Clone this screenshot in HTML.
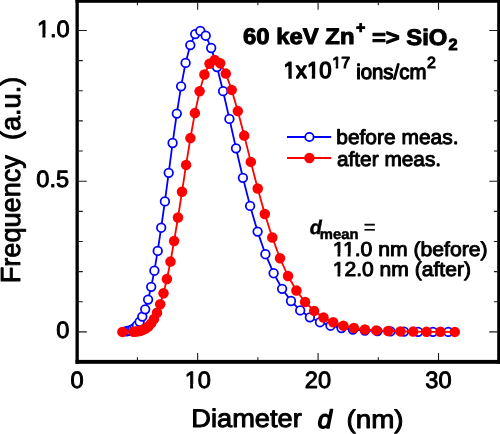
<!DOCTYPE html>
<html><head><meta charset="utf-8">
<style>
html,body{margin:0;padding:0;background:#fff;}
body{width:500px;height:434px;overflow:hidden;}
svg{display:block;}
text{font-family:"Liberation Sans",Arial,sans-serif;fill:#000;white-space:pre;stroke-linejoin:round;text-rendering:geometricPrecision;}
</style></head>
<body>
<svg width="500" height="434" viewBox="0 0 500 434">
<rect x="0" y="0" width="500" height="434" fill="#fff"/>
<path d="M78.8,331.90H86.8M497.2,331.90H489.3M78.8,301.76H82.8M497.2,301.76H493.9M78.8,271.62H82.8M497.2,271.62H493.9M78.8,241.48H82.8M497.2,241.48H493.9M78.8,211.34H82.8M497.2,211.34H493.9M78.8,181.20H86.8M497.2,181.20H489.3M78.8,151.06H82.8M497.2,151.06H493.9M78.8,120.92H82.8M497.2,120.92H493.9M78.8,90.78H82.8M497.2,90.78H493.9M78.8,60.64H82.8M497.2,60.64H493.9M78.8,30.50H86.8M497.2,30.50H489.3M137.42,359.9V357.2M137.42,2.8V5.2M197.64,359.9V353.1M197.64,2.8V9.8M257.86,359.9V357.2M257.86,2.8V5.2M318.08,359.9V353.1M318.08,2.8V9.8M378.30,359.9V357.2M378.30,2.8V5.2M438.52,359.9V353.1M438.52,2.8V9.8" stroke="#1a1a1a" stroke-width="1.1" fill="none"/>
<g fill="#000"><rect x="75.5" y="0" width="3.3" height="363.8"/><rect x="75.5" y="0" width="424.5" height="2.8"/><rect x="75.5" y="359.9" width="424.5" height="3.9"/><rect x="497.2" y="0" width="2.8" height="363.8"/></g>
<polyline points="125.6,331.4 127.7,331.0 129.9,330.4 132.2,329.4 134.6,327.8 137.0,325.4 139.6,321.8 142.3,316.6 145.2,309.3 148.1,299.6 151.2,286.8 154.4,270.7 157.7,250.9 161.2,227.7 164.9,201.4 168.7,172.8 172.6,143.0 176.8,113.6 181.1,86.3 185.6,62.9 190.3,45.1 195.2,34.1 200.3,30.9 205.7,35.7 211.2,48.0 217.0,67.0 223.1,91.2 229.4,118.9 236.0,148.3 242.9,177.8 250.1,205.9 257.6,231.6 265.4,254.2 273.6,273.2 282.1,288.8 291.0,301.0 300.2,310.4 309.9,317.3 320.0,322.2 330.5,325.7 341.5,328.0 352.9,329.5 364.9,330.5 377.4,331.1 390.4,331.4 404.0,331.6 418.1,331.8 432.9,331.8 448.3,331.9" fill="none" stroke="#0000ff" stroke-width="1.8" stroke-linejoin="round"/>
<g fill="#fff" stroke="#0000ff" stroke-width="1.75"><circle cx="125.6" cy="331.4" r="4.3"/><circle cx="127.7" cy="331.0" r="4.3"/><circle cx="129.9" cy="330.4" r="4.3"/><circle cx="132.2" cy="329.4" r="4.3"/><circle cx="134.6" cy="327.8" r="4.3"/><circle cx="137.0" cy="325.4" r="4.3"/><circle cx="139.6" cy="321.8" r="4.3"/><circle cx="142.3" cy="316.6" r="4.3"/><circle cx="145.2" cy="309.3" r="4.3"/><circle cx="148.1" cy="299.6" r="4.3"/><circle cx="151.2" cy="286.8" r="4.3"/><circle cx="154.4" cy="270.7" r="4.3"/><circle cx="157.7" cy="250.9" r="4.3"/><circle cx="161.2" cy="227.7" r="4.3"/><circle cx="164.9" cy="201.4" r="4.3"/><circle cx="168.7" cy="172.8" r="4.3"/><circle cx="172.6" cy="143.0" r="4.3"/><circle cx="176.8" cy="113.6" r="4.3"/><circle cx="181.1" cy="86.3" r="4.3"/><circle cx="185.6" cy="62.9" r="4.3"/><circle cx="190.3" cy="45.1" r="4.3"/><circle cx="195.2" cy="34.1" r="4.3"/><circle cx="200.3" cy="30.9" r="4.3"/><circle cx="205.7" cy="35.7" r="4.3"/><circle cx="211.2" cy="48.0" r="4.3"/><circle cx="217.0" cy="67.0" r="4.3"/><circle cx="223.1" cy="91.2" r="4.3"/><circle cx="229.4" cy="118.9" r="4.3"/><circle cx="236.0" cy="148.3" r="4.3"/><circle cx="242.9" cy="177.8" r="4.3"/><circle cx="250.1" cy="205.9" r="4.3"/><circle cx="257.6" cy="231.6" r="4.3"/><circle cx="265.4" cy="254.2" r="4.3"/><circle cx="273.6" cy="273.2" r="4.3"/><circle cx="282.1" cy="288.8" r="4.3"/><circle cx="291.0" cy="301.0" r="4.3"/><circle cx="300.2" cy="310.4" r="4.3"/><circle cx="309.9" cy="317.3" r="4.3"/><circle cx="320.0" cy="322.2" r="4.3"/><circle cx="330.5" cy="325.7" r="4.3"/><circle cx="341.5" cy="328.0" r="4.3"/><circle cx="352.9" cy="329.5" r="4.3"/><circle cx="364.9" cy="330.5" r="4.3"/><circle cx="377.4" cy="331.1" r="4.3"/><circle cx="390.4" cy="331.4" r="4.3"/><circle cx="404.0" cy="331.6" r="4.3"/><circle cx="418.1" cy="331.8" r="4.3"/><circle cx="432.9" cy="331.8" r="4.3"/><circle cx="448.3" cy="331.9" r="4.3"/></g>
<polyline points="122.4,331.9 133.5,331.7 135.7,331.5 138.0,331.2 140.4,330.7 142.9,329.8 145.5,328.5 148.3,326.5 151.1,323.4 154.0,319.0 157.0,312.7 160.2,304.3 163.5,293.2 166.9,279.0 170.5,261.6 174.1,241.0 178.0,217.5 182.0,191.8 186.1,164.9 190.4,138.1 194.9,113.1 199.6,91.3 204.4,74.5 209.5,63.8 214.7,59.9 220.2,63.3 225.8,73.6 231.7,89.9 237.8,111.1 244.2,135.6 250.8,161.9 257.7,188.5 264.8,214.0 272.3,237.5 280.0,258.3 288.0,276.0 296.4,290.5 305.1,302.0 314.1,310.9 323.5,317.5 333.2,322.3 343.4,325.7 353.9,328.0 364.9,329.5 376.3,330.4 388.1,331.0 400.4,331.4 413.2,331.6 426.6,331.8 440.4,331.8 454.8,331.9" fill="none" stroke="#ff0000" stroke-width="1.8" stroke-linejoin="round"/>
<g fill="#ff0000"><circle cx="122.4" cy="331.9" r="5.25"/><circle cx="133.5" cy="331.7" r="5.25"/><circle cx="135.7" cy="331.5" r="5.25"/><circle cx="138.0" cy="331.2" r="5.25"/><circle cx="140.4" cy="330.7" r="5.25"/><circle cx="142.9" cy="329.8" r="5.25"/><circle cx="145.5" cy="328.5" r="5.25"/><circle cx="148.3" cy="326.5" r="5.25"/><circle cx="151.1" cy="323.4" r="5.25"/><circle cx="154.0" cy="319.0" r="5.25"/><circle cx="157.0" cy="312.7" r="5.25"/><circle cx="160.2" cy="304.3" r="5.25"/><circle cx="163.5" cy="293.2" r="5.25"/><circle cx="166.9" cy="279.0" r="5.25"/><circle cx="170.5" cy="261.6" r="5.25"/><circle cx="174.1" cy="241.0" r="5.25"/><circle cx="178.0" cy="217.5" r="5.25"/><circle cx="182.0" cy="191.8" r="5.25"/><circle cx="186.1" cy="164.9" r="5.25"/><circle cx="190.4" cy="138.1" r="5.25"/><circle cx="194.9" cy="113.1" r="5.25"/><circle cx="199.6" cy="91.3" r="5.25"/><circle cx="204.4" cy="74.5" r="5.25"/><circle cx="209.5" cy="63.8" r="5.25"/><circle cx="214.7" cy="59.9" r="5.25"/><circle cx="220.2" cy="63.3" r="5.25"/><circle cx="225.8" cy="73.6" r="5.25"/><circle cx="231.7" cy="89.9" r="5.25"/><circle cx="237.8" cy="111.1" r="5.25"/><circle cx="244.2" cy="135.6" r="5.25"/><circle cx="250.8" cy="161.9" r="5.25"/><circle cx="257.7" cy="188.5" r="5.25"/><circle cx="264.8" cy="214.0" r="5.25"/><circle cx="272.3" cy="237.5" r="5.25"/><circle cx="280.0" cy="258.3" r="5.25"/><circle cx="288.0" cy="276.0" r="5.25"/><circle cx="296.4" cy="290.5" r="5.25"/><circle cx="305.1" cy="302.0" r="5.25"/><circle cx="314.1" cy="310.9" r="5.25"/><circle cx="323.5" cy="317.5" r="5.25"/><circle cx="333.2" cy="322.3" r="5.25"/><circle cx="343.4" cy="325.7" r="5.25"/><circle cx="353.9" cy="328.0" r="5.25"/><circle cx="364.9" cy="329.5" r="5.25"/><circle cx="376.3" cy="330.4" r="5.25"/><circle cx="388.1" cy="331.0" r="5.25"/><circle cx="400.4" cy="331.4" r="5.25"/><circle cx="413.2" cy="331.6" r="5.25"/><circle cx="426.6" cy="331.8" r="5.25"/><circle cx="440.4" cy="331.8" r="5.25"/><circle cx="454.8" cy="331.9" r="5.25"/></g>
<path d="M287,137H331.2" stroke="#0000ff" stroke-width="1.9"/>
<circle cx="309.4" cy="137" r="4.2" fill="#fff" stroke="#0000ff" stroke-width="1.8"/>
<path d="M287,158H331.2" stroke="#ff0000" stroke-width="1.9"/>
<circle cx="309.4" cy="158" r="5.2" fill="#ff0000"/>
<text x="36.93" y="37.44" font-size="23.60" stroke="#000" stroke-width="0.95">1.0</text>
<text x="36.35" y="187.39" font-size="23.60" stroke="#000" stroke-width="0.95">0.5</text>
<text x="56.14" y="338.04" font-size="23.60" stroke="#000" stroke-width="0.95">0</text>
<text x="70.59" y="387.74" font-size="23.60" stroke="#000" stroke-width="0.95">0</text>
<text x="184.63" y="387.54" font-size="23.60" stroke="#000" stroke-width="0.95">10</text>
<text x="304.78" y="387.74" font-size="23.60" stroke="#000" stroke-width="0.95">20</text>
<text x="425.30" y="387.74" font-size="23.60" stroke="#000" stroke-width="0.95">30</text>
<text x="191.30" y="427.45" font-size="25.50" textLength="110.48" lengthAdjust="spacingAndGlyphs" stroke="#000" stroke-width="0.95">Diameter</text>
<text x="317.87" y="427.65" font-size="25.50" stroke="#000" stroke-width="1.40" font-style="italic">d</text>
<text x="346.51" y="427.50" font-size="25.50" textLength="57.13" lengthAdjust="spacingAndGlyphs" stroke="#000" stroke-width="0.95">(nm)</text>
<text transform="translate(20.40,283.30) rotate(-90)" font-size="27.50" textLength="206.57" lengthAdjust="spacingAndGlyphs" stroke="#000" stroke-width="0.95">Frequency  (a.u.)</text>
<text x="243.05" y="44.49" font-size="22.50" textLength="111.46" lengthAdjust="spacingAndGlyphs" stroke="#000" stroke-width="1.00" font-weight="bold">60 keV Zn</text>
<text x="355.96" y="32.86" font-size="16.00" stroke="#000" stroke-width="1.00" font-weight="bold">+</text>
<text x="371.95" y="44.69" font-size="22.50" textLength="75.47" lengthAdjust="spacingAndGlyphs" stroke="#000" stroke-width="1.00" font-weight="bold">=&gt; SiO</text>
<text x="448.52" y="49.61" font-size="16.30" stroke="#000" stroke-width="1.00" font-weight="bold">2</text>
<text x="283.53" y="78.19" font-size="23.00" textLength="48.03" lengthAdjust="spacingAndGlyphs" stroke="#000" stroke-width="1.40">1x10</text>
<text x="332.28" y="67.52" font-size="16.00" stroke="#000" stroke-width="1.10">17</text>
<text x="356.17" y="78.70" font-size="21.00" textLength="70.26" lengthAdjust="spacingAndGlyphs" stroke="#000" stroke-width="1.20">ions/cm</text>
<text x="427.07" y="67.75" font-size="16.00" stroke="#000" stroke-width="1.10">2</text>
<text x="336.22" y="144.31" font-size="20.30" textLength="122.33" lengthAdjust="spacingAndGlyphs" stroke="#000" stroke-width="0.95">before meas.</text>
<text x="336.94" y="166.01" font-size="20.30" textLength="104.20" lengthAdjust="spacingAndGlyphs" stroke="#000" stroke-width="0.95">after meas.</text>
<text x="309.67" y="234.43" font-size="19.80" stroke="#000" stroke-width="0.40" font-weight="bold" font-style="italic">d</text>
<text x="319.81" y="239.29" font-size="14.50" textLength="38.66" lengthAdjust="spacingAndGlyphs" stroke="#000" stroke-width="0.50" font-weight="bold">mean</text>
<text x="363.66" y="234.16" font-size="20.50" stroke="#000" stroke-width="0.35">=</text>
<text x="332.68" y="256.20" font-size="20.20" textLength="154.98" lengthAdjust="spacingAndGlyphs" stroke="#000" stroke-width="0.95">11.0 nm (before)</text>
<text x="332.69" y="276.40" font-size="20.20" textLength="138.26" lengthAdjust="spacingAndGlyphs" stroke="#000" stroke-width="0.95">12.0 nm (after)</text>
<g fill="#fff"><rect x="38.00" y="34.00" width="4.39" height="5.00"/><rect x="45.43" y="34.00" width="4.57" height="5.00"/><rect x="185.00" y="384.00" width="5.09" height="5.00"/><rect x="193.13" y="384.00" width="4.87" height="5.00"/><rect x="284.00" y="75.00" width="4.40" height="5.00"/><rect x="291.76" y="75.00" width="4.24" height="5.00"/><rect x="307.00" y="75.00" width="4.78" height="5.00"/><rect x="315.14" y="75.00" width="4.86" height="5.00"/><rect x="332.00" y="65.00" width="3.75" height="4.00"/><rect x="338.27" y="65.00" width="3.73" height="4.00"/><rect x="333.00" y="253.00" width="4.53" height="5.00"/><rect x="340.35" y="253.00" width="4.65" height="5.00"/><rect x="343.00" y="253.00" width="4.72" height="5.00"/><rect x="350.55" y="253.00" width="4.45" height="5.00"/><rect x="333.00" y="273.00" width="4.52" height="5.00"/><rect x="340.33" y="273.00" width="4.67" height="5.00"/></g>
</svg>
</body></html>
